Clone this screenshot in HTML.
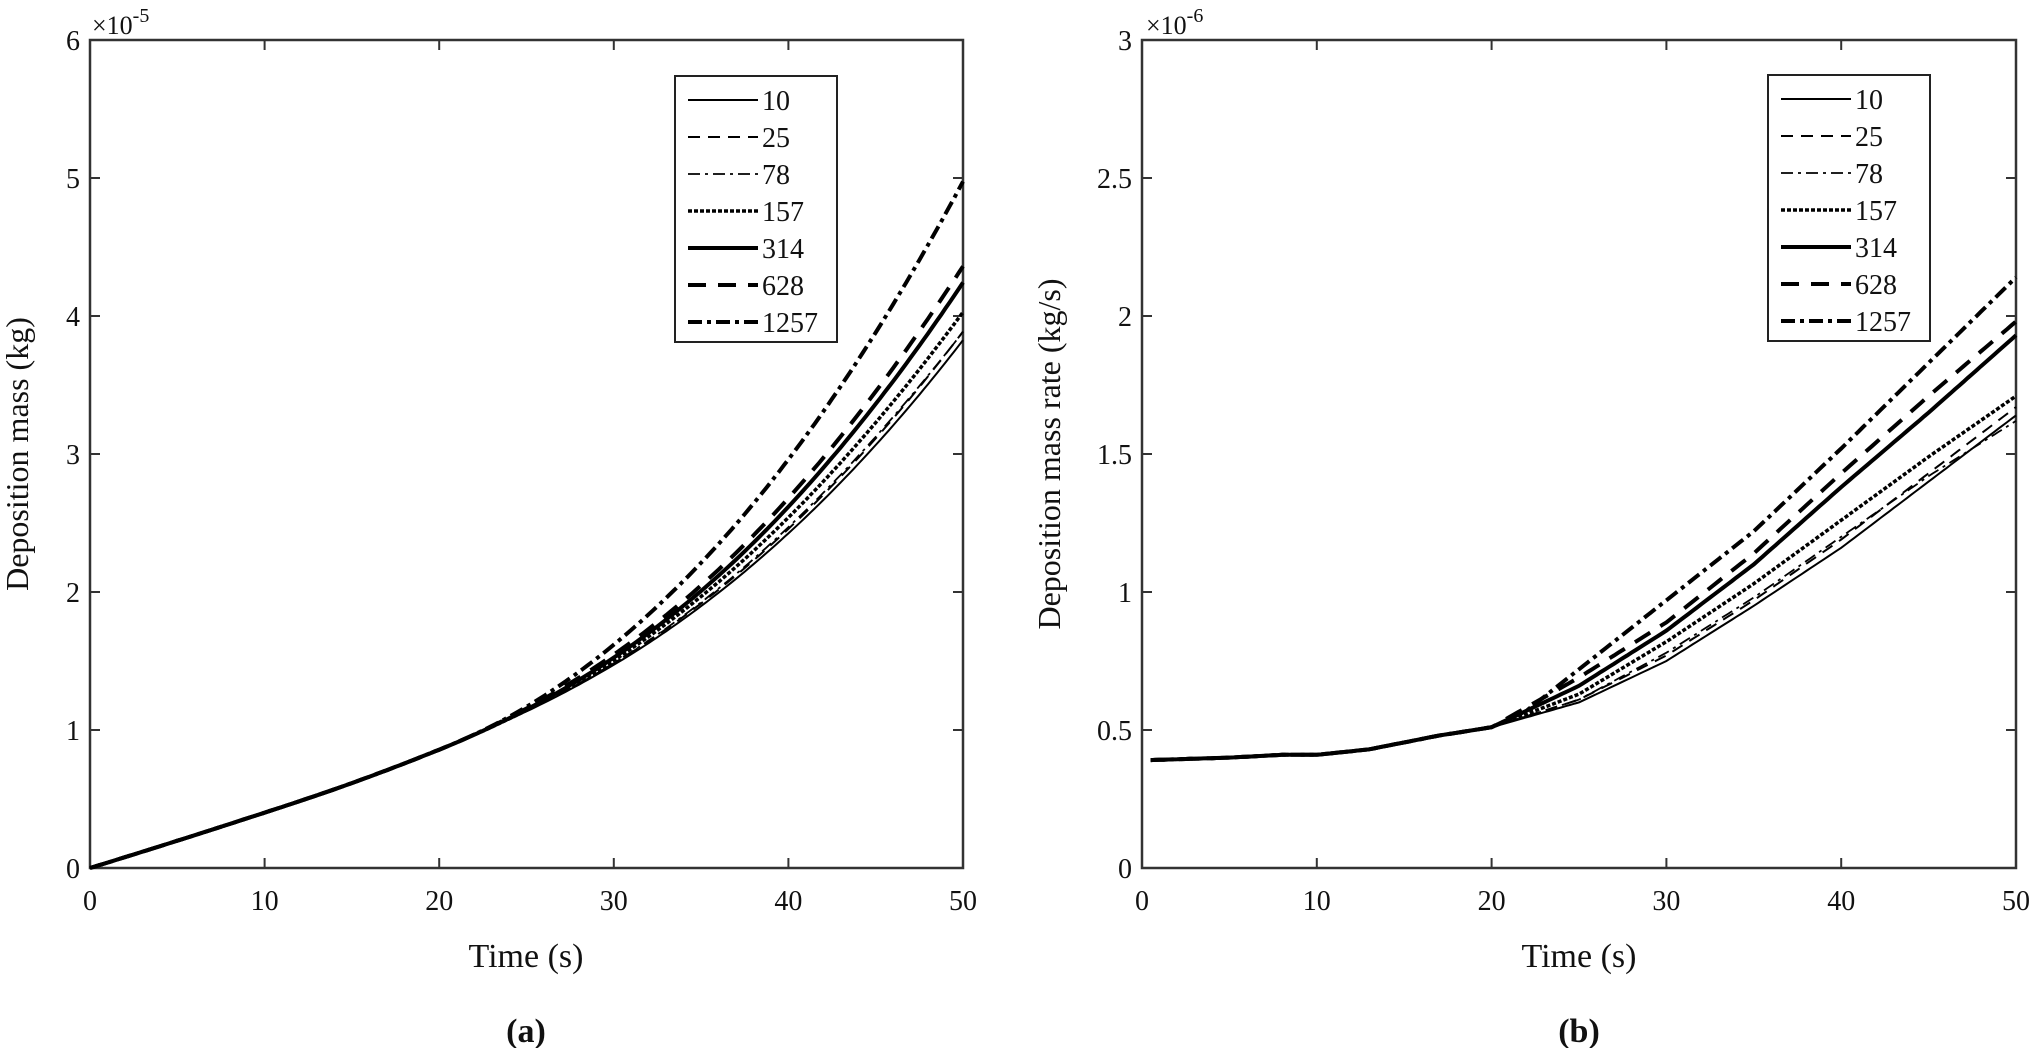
<!DOCTYPE html>
<html><head><meta charset="utf-8"><style>
html,body{margin:0;padding:0;background:#fff;}
svg{display:block;}
text{font-family:"Liberation Serif",serif;fill:#111;}
</style></head><body>
<svg id="s" width="2032" height="1048" xmlns="http://www.w3.org/2000/svg">
<rect width="2032" height="1048" fill="#fff"/>
<g id="g"></g>
<text x="526" y="967" font-size="34" text-anchor="middle">Time (s)</text>
<text x="1579" y="967" font-size="34" text-anchor="middle">Time (s)</text>
<text x="526" y="1042" font-size="34" font-weight="bold" text-anchor="middle">(a)</text>
<text x="1579" y="1042" font-size="34" font-weight="bold" text-anchor="middle">(b)</text>
<text transform="translate(28,454) rotate(-90)" font-size="32" text-anchor="middle">Deposition mass (kg)</text>
<text transform="translate(1060,454) rotate(-90)" font-size="32" text-anchor="middle">Deposition mass rate (kg/s)</text>
<text x="92" y="34" font-size="26">×10<tspan dy="-12" font-size="20">-5</tspan></text>
<text x="1146" y="34" font-size="26">×10<tspan dy="-12" font-size="20">-6</tspan></text>
</svg>
<script>
var NS="http://www.w3.org/2000/svg",g=document.getElementById('g');
function el(n,a,p){var e=document.createElementNS(NS,n);for(var k in a)e.setAttribute(k,a[k]);(p||g).appendChild(e);return e;}
var T=40,B=868;
var styles=[
 {n:"10",w:2,d:""},
 {n:"25",w:2,d:"12,8"},
 {n:"78",w:1.8,d:"12,5,3,5"},
 {n:"157",w:3.5,d:"4,2"},
 {n:"314",w:4,d:""},
 {n:"628",w:4,d:"18,12"},
 {n:"1257",w:4,d:"14,5,4,5"}];
var base=[[0,0.39],[5,0.40],[8,0.41],[10,0.41],[13,0.43],[17,0.48],[20,0.51]];
var tails=[
 [[25,0.60],[30,0.75],[35,0.95],[40,1.16],[45,1.40],[50,1.64]],
 [[25,0.61],[30,0.77],[35,0.97],[40,1.19],[45,1.43],[50,1.67]],
 [[25,0.61],[30,0.78],[35,0.98],[40,1.20],[45,1.42],[50,1.62]],
 [[25,0.63],[30,0.82],[35,1.03],[40,1.26],[45,1.49],[50,1.71]],
 [[25,0.66],[30,0.86],[35,1.10],[40,1.38],[45,1.65],[50,1.93]],
 [[25,0.69],[30,0.89],[35,1.14],[40,1.43],[45,1.71],[50,1.98]],
 [[22,0.57],[26,0.77],[30,0.97],[35,1.22],[40,1.52],[45,1.83],[50,2.14]]];
var extra=[0,0,0,0,-0.05,-0.05,0.33];
function interp(pts,t){for(var i=1;i<pts.length;i++){if(t<=pts[i][0]){var a=pts[i-1],b=pts[i];return a[1]+(b[1]-a[1])*(t-a[0])/(b[0]-a[0]);}}return pts[pts.length-1][1];}
function axes(L,R,ymax,ystep,labfmt){
 el('rect',{x:L,y:T,width:R-L,height:B-T,fill:'none',stroke:'#333','stroke-width':2.5});
 for(var i=0;i<=5;i++){var x=L+(R-L)*i/5;
  el('line',{x1:x,y1:B,x2:x,y2:B-10,stroke:'#333','stroke-width':2});
  el('line',{x1:x,y1:T,x2:x,y2:T+10,stroke:'#333','stroke-width':2});
  var t=el('text',{x:x,y:B+42,'font-size':28,'text-anchor':'middle'});t.textContent=String(i*10);}
 var n=Math.round(ymax/ystep);
 for(var j=0;j<=n;j++){var y=B-(B-T)*j/n;
  el('line',{x1:L,y1:y,x2:L+10,y2:y,stroke:'#333','stroke-width':2});
  el('line',{x1:R,y1:y,x2:R-10,y2:y,stroke:'#333','stroke-width':2});
  var t2=el('text',{x:L-10,y:y+10,'font-size':28,'text-anchor':'end'});t2.textContent=labfmt(j*ystep);}
}
function legend(x0,y0){
 el('rect',{x:x0,y:y0,width:162,height:266,fill:'#fff',stroke:'#222','stroke-width':2});
 for(var i=0;i<7;i++){var y=y0+24+i*37;
  el('line',{x1:x0+13,y1:y,x2:x0+83,y2:y,stroke:'#000','stroke-width':styles[i].w,'stroke-dasharray':styles[i].d});
  var t=el('text',{x:x0+87,y:y+10,'font-size':28});t.textContent=styles[i].n;}
}
function fmt(v){return (Math.round(v*10)/10).toString();}
axes(90,963,6,1,fmt);
axes(1142,2016,3,0.5,fmt);
for(var k=0;k<7;k++){
 var pts=base.concat(tails[k]);
 var dl="",dr="",m=0,dt=0.25;
 for(var t=0;t<=50.0001;t+=dt){
  var r=interp(pts,t);
  if(t>0){m+=(interp(pts,t-dt)+r)/2*dt;}
  var mm=m/10; if(t>20){var f=(t-20)/30; mm+=extra[k]*f*f;}
  var xl=90+873*t/50, yl=B-(B-T)*mm/6;
  var xr=1142+874*t/50, yr=B-(B-T)*r/3;
  dl+=(t==0?"M":"L")+xl.toFixed(1)+","+yl.toFixed(1);
  if(t>=0.5) dr+=(dr==""?"M":"L")+xr.toFixed(1)+","+yr.toFixed(1);
 }
 el('path',{d:dl,fill:'none',stroke:'#000','stroke-width':styles[k].w,'stroke-dasharray':styles[k].d});
 el('path',{d:dr,fill:'none',stroke:'#000','stroke-width':styles[k].w,'stroke-dasharray':styles[k].d});
}
legend(675,76);
legend(1768,75);
</script>
</body></html>
